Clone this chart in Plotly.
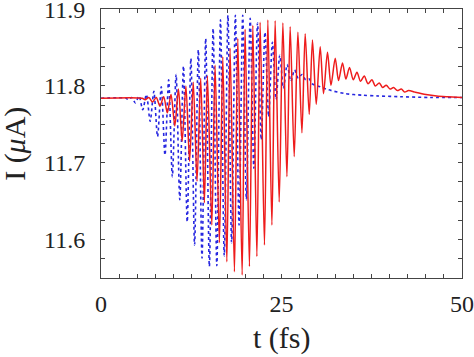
import plotly.graph_objects as go

# ---- red (solid) series: extrema ----
red_t = [0.0, 5.7,
         6.11, 6.63, 7.14, 7.65, 8.17, 8.68, 9.19, 9.70, 10.22, 10.73, 11.24, 11.76,
         12.27, 12.78, 13.30, 13.81, 14.32, 14.74, 15.35, 15.80, 16.40, 16.87, 17.43,
         17.88, 18.48, 18.95, 19.55, 19.96, 20.56, 21.03, 21.59, 22.04, 22.64, 23.11,
         23.67, 24.12, 24.68, 25.19, 25.75, 26.20, 26.76, 27.27, 27.83, 28.28, 28.84,
         29.29, 29.81, 30.36, 30.82, 31.37, 31.85, 32.44, 32.90, 33.45, 33.92, 34.42,
         34.94, 35.45, 35.95, 36.46, 36.98, 37.53, 37.99, 38.54, 39.00, 39.51, 40.03,
         40.52, 41.04, 41.59, 42.05, 42.60,
         43.5, 45.0, 46.5, 48.0, 50.0]
red_i = [11.784, 11.784,
         11.782, 11.785, 11.779, 11.785, 11.774, 11.786, 11.765, 11.789, 11.748, 11.796,
         11.728, 11.800, 11.702, 11.805, 11.676, 11.810, 11.648, 11.813, 11.619, 11.827,
         11.596, 11.838, 11.571, 11.849, 11.558, 11.862, 11.554, 11.874, 11.565, 11.879,
         11.578, 11.883, 11.593, 11.886, 11.619, 11.885, 11.649, 11.882, 11.682, 11.877,
         11.708, 11.870, 11.739, 11.868, 11.763, 11.860, 11.776, 11.851, 11.790, 11.844,
         11.801, 11.836, 11.807, 11.830, 11.809, 11.824, 11.808, 11.818, 11.806, 11.813,
         11.803, 11.808, 11.800, 11.804, 11.798, 11.801, 11.796, 11.798, 11.794, 11.796,
         11.792, 11.794,
         11.792, 11.789, 11.787, 11.786, 11.785]

# ---- blue (dotted) series: extrema ----
blue_t = [0.0, 3.5,
          3.73, 4.24, 4.76, 5.27, 5.78, 6.29, 6.81, 7.32, 7.83, 8.35, 8.86, 9.37,
          9.88, 10.40, 10.91, 11.42, 11.94, 12.45, 12.96, 13.48, 13.99, 14.50, 15.01,
          15.53, 16.04, 16.55, 17.07, 17.58, 18.09, 18.61, 19.12, 19.63, 20.14, 20.66,
          21.17, 21.68, 22.20, 22.71, 23.22, 23.74, 24.25, 24.76, 25.27, 25.79, 26.30,
          26.81, 27.33, 27.84, 28.35, 28.86,
          29.21, 30.36, 31.51, 33.83, 36.14, 38.40, 41.45, 45.6, 50.0]
blue_i = [11.784, 11.784,
          11.782, 11.785, 11.778, 11.787, 11.769, 11.789, 11.754, 11.793, 11.734, 11.799,
          11.710, 11.808, 11.682, 11.815, 11.652, 11.826, 11.623, 11.836, 11.593, 11.847,
          11.576, 11.862, 11.565, 11.875, 11.566, 11.886, 11.579, 11.892, 11.596, 11.892,
          11.619, 11.892, 11.652, 11.888, 11.693, 11.882, 11.730, 11.870, 11.760, 11.857,
          11.782, 11.840, 11.797, 11.828, 11.806, 11.821, 11.810, 11.815, 11.808, 11.809,
          11.803, 11.799, 11.795, 11.790, 11.788, 11.787, 11.786, 11.785, 11.785]

x_ticks = [0, 25, 50]
x_labels = ["0", "25", "50"]
y_ticks = [11.6, 11.7, 11.8, 11.9]
y_labels = ["11.6", "11.7", "11.8", "11.9"]
x_title = "t (fs)"
y_title = "I (<i>μ</i>A)"

FONT = "Liberation Serif, Times New Roman, serif"
INK = "#222222"

fig = go.Figure()
fig.add_trace(go.Scatter(x=blue_t, y=blue_i, mode="lines",
                         line=dict(color="#2626e0", width=1.6, dash="dot", shape="spline", smoothing=0.8),
                         showlegend=False, hoverinfo="skip"))
fig.add_trace(go.Scatter(x=red_t, y=red_i, mode="lines",
                         line=dict(color="#ee1c1c", width=1.5, shape="spline", smoothing=0.8),
                         showlegend=False, hoverinfo="skip"))

axis_common = dict(showgrid=False, zeroline=False, showline=True, linecolor="#444444",
                   linewidth=1, mirror="allticks", ticks="inside", ticklen=4,
                   tickcolor="#444444", automargin=False, ticklabeloverflow="allow",
                   tickfont=dict(family=FONT, size=24, color=INK))

fig.update_layout(
    width=474, height=357,
    margin=dict(l=101, r=12, t=9, b=79),
    paper_bgcolor="white", plot_bgcolor="white",
    font=dict(family=FONT, color=INK),
    xaxis=dict(range=[0, 50], tickvals=x_ticks, ticktext=x_labels,
               minor=dict(dtick=2.5, tick0=0, ticks="inside", ticklen=4, tickcolor="#444444"),
               ticklabelstandoff=4, **axis_common),
    yaxis=dict(range=[11.55, 11.9002], tickvals=y_ticks, ticktext=y_labels,
               minor=dict(dtick=0.025, tick0=11.55, ticks="inside", ticklen=4, tickcolor="#444444"),
               ticklabelstandoff=10, **axis_common),
    annotations=[
        dict(text=x_title, xref="paper", yref="paper", x=0.5, y=-0.223,
             xanchor="center", yanchor="middle", showarrow=False,
             font=dict(family=FONT, size=30, color=INK)),
        dict(text=y_title, xref="paper", yref="paper", x=-0.24, y=0.5,
             xanchor="center", yanchor="middle", showarrow=False, textangle=-90,
             font=dict(family=FONT, size=30, color=INK)),
    ],
)

fig.write_html("out.html", config={"displayModeBar": False, "staticPlot": True},
               post_script="document.body.style.margin='0';")
